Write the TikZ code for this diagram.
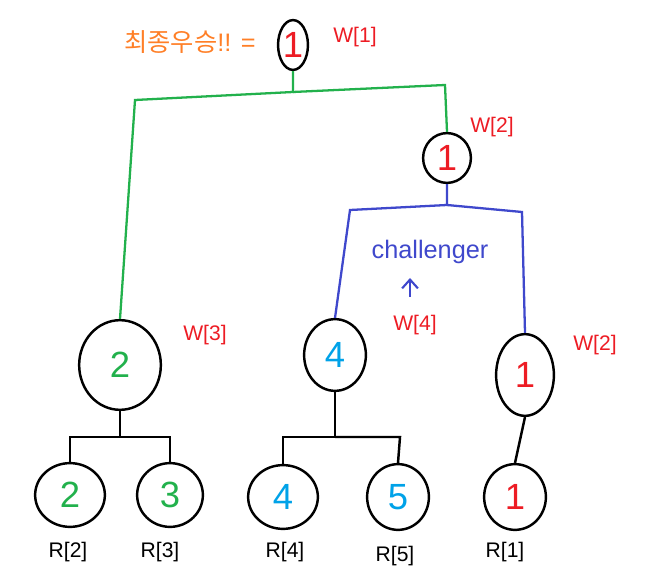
\documentclass[tikz,border=0pt]{standalone}
\usepackage{fontspec}
\usetikzlibrary{shapes.geometric,arrows.meta}
\setmainfont{Liberation Sans}
\newfontfamily\kor{Noto Sans CJK KR}
\definecolor{gr}{RGB}{34,177,76}
\definecolor{bl}{RGB}{63,72,204}
\definecolor{rd}{RGB}{237,28,36}
\definecolor{og}{RGB}{255,127,39}
\definecolor{lb}{RGB}{0,162,232}
\begin{document}
\begin{tikzpicture}[x=0.02cm,y=-0.02cm,
  nd/.style 2 args={draw,line width=1.4pt,ellipse,inner sep=0pt,font=\huge,minimum width=#1*0.567pt,minimum height=#2*0.567pt},
  lab/.style={font=\large,text=rd},
  rl/.style={font=\large},
  gw/.style={gr,line width=1.3pt},
  bw/.style={bl,line width=1.3pt},
  kw/.style={black,line width=1.4pt}]
\useasboundingbox (0,0) rectangle (645,580);
\node[nd={30}{50},text=rd] (top) at (293,45) {1};
\node[lab] (w1) at (355,37) {W[1]};
\node[font=\Large,text=og] (win) at (190,42) {{\kor 최종우승}!! =};
\node[nd={48}{50},text=rd] (b1) at (447,158) {1};
\node[lab] (w2a) at (492,127) {W[2]};
\node[nd={82}{90},text=gr] (n2) at (120,365) {2};
\node[lab] (w3) at (205,335) {W[3]};
\node[nd={62}{72},text=lb] (n4) at (335,355) {4};
\node[lab] (w4) at (415,325) {W[4]};
\node[nd={58}{82},text=rd] (n1) at (525,375) {1};
\node[lab] (w2b) at (595,345) {W[2]};
\node[nd={70}{64},text=gr] (l2) at (70,495) {2};
\node[nd={66}{64},text=gr] (l3) at (170,495) {3};
\node[nd={70}{64},text=lb] (l4) at (283,497) {4};
\node[nd={62}{66},text=lb] (l5) at (398,497) {5};
\node[nd={62}{66},text=rd] (l1) at (515,497) {1};
\node[rl] (r2) at (68,552) {R[2]};
\node[rl] (r3) at (160,552) {R[3]};
\node[rl] (r4) at (285,552) {R[4]};
\node[rl] (r5) at (395,556) {R[5]};
\node[rl] (r1) at (505,552) {R[1]};
\node[bl,font=\Large] (ch) at (430,252) {challenger};
\coordinate (a1) at (410,297);
\coordinate (a2) at (410,278);
\draw[bl,line width=1.2pt,-{Straight Barb[length=5pt,width=9pt]}] (a1) -- (a2);
% green
\draw[gw] (top.south) -- (293,92) -- (135,100) -- (n2.north);
\draw[gw] (293,92) -- (445,85) -- (b1.north);
% blue
\draw[bw] (b1.south) -- (447,205) -- (350,210) -- (n4.north);
\draw[bw] (447,205) -- (522,212) -- (n1.north);
% black
\draw[kw] (n2.south) -- (120,437) -- (70,437) -- (l2.north);
\draw[kw] (120,437) -- (170,437) -- (l3.north);
\draw[kw] (n4.south) -- (335,437) -- (283,437) -- (l4.north);
\draw[kw] (335,437) -- (400,437) -- (l5.north);
\draw[kw] (n1.south) -- (l1.north);
\end{tikzpicture}
\end{document}
